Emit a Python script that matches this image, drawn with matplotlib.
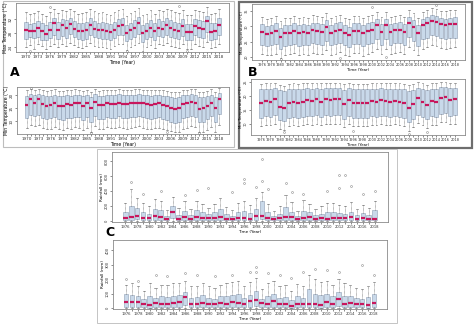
import matplotlib
matplotlib.use("Agg")
import matplotlib.pyplot as plt
from matplotlib.patches import Rectangle

W, H = 474, 324

# ---------------- data ----------------
years_a = list(range(1970, 2019))
years_bc = list(range(1976, 2019))

# Station A, maximum temperature (°C)
amax_med = [29.0, 28.5, 28.7, 29.5, 28.5, 27.8, 29.0, 30.8, 29.0, 30.4, 29.5, 30.6, 29.3, 28.7, 28.7, 28.9, 30.4,
            29.3, 28.8, 28.8, 28.6, 28.3, 29.0, 30.1, 30.3, 27.9, 28.8, 29.5, 30.9, 27.9, 28.5, 29.6, 28.6, 29.6,
            29.3, 30.2, 29.5, 29.0, 28.6, 29.9, 28.2, 28.2, 30.0, 29.4, 29.1, 31.4, 28.4, 28.6, 30.3]
amax_q1 = [26.2, 26.8, 26.5, 27.0, 26.0, 25.9, 26.5, 27.5, 26.4, 27.2, 26.6, 27.8, 26.8, 26.3, 26.0, 26.4, 27.6,
           26.9, 26.5, 26.3, 26.2, 26.0, 26.6, 27.4, 27.5, 25.8, 26.3, 26.8, 27.8, 25.4, 26.2, 27.0, 26.0, 27.2,
           26.9, 27.6, 26.8, 26.5, 26.2, 27.3, 26.0, 25.9, 27.5, 26.8, 26.6, 28.3, 26.1, 26.3, 27.4]
amax_q3 = [31.2, 30.6, 31.0, 31.6, 30.8, 30.4, 31.3, 32.4, 31.2, 32.0, 31.8, 32.3, 31.5, 30.9, 31.0, 31.2, 32.2,
           31.6, 31.0, 31.2, 30.9, 30.6, 31.3, 32.0, 32.2, 30.3, 31.0, 31.7, 32.5, 30.4, 30.9, 31.8, 30.9, 31.9,
           31.6, 32.2, 31.8, 31.3, 31.0, 32.0, 30.6, 30.6, 32.0, 31.7, 31.4, 32.8, 30.8, 31.0, 32.2]
amax_lo = [24.0, 24.6, 23.4, 24.8, 24.2, 23.6, 24.4, 25.0, 24.1, 24.9, 24.3, 25.3, 24.5, 24.0, 23.8, 24.2, 25.1,
           24.4, 24.0, 23.9, 23.8, 23.6, 24.2, 24.9, 25.0, 23.2, 24.0, 24.5, 25.2, 23.0, 23.9, 24.6, 23.7, 24.8,
           24.5, 25.1, 24.4, 24.0, 23.8, 24.8, 23.6, 23.5, 25.0, 24.3, 24.1, 25.6, 23.7, 23.9, 24.8]
amax_hi = [34.0, 33.4, 33.8, 34.2, 33.5, 33.0, 34.0, 34.8, 33.8, 34.6, 34.4, 35.0, 34.2, 33.6, 33.8, 34.0, 34.8,
           34.4, 33.8, 33.9, 33.6, 33.3, 34.0, 34.6, 34.8, 33.0, 33.8, 34.4, 35.1, 33.1, 33.6, 34.5, 33.6, 34.5,
           34.3, 34.8, 34.5, 34.0, 33.7, 34.6, 33.3, 33.2, 34.6, 34.3, 34.0, 35.4, 33.5, 33.7, 34.8]
amax_out = {1971: [22.9], 1976: [35.4], 1995: [22.8], 2008: [35.8], 2010: [23.0]}

# Station A, minimum temperature (°C)
amin_med = [16.2, 18.3, 17.0, 18.3, 16.5, 15.8, 16.2, 16.8, 15.8, 15.8, 16.5, 16.2, 16.8, 16.8, 15.8, 16.8, 15.0,
            17.3, 16.0, 16.0, 16.8, 16.5, 16.5, 17.0, 16.5, 16.5, 16.8, 16.8, 17.0, 16.8, 16.5, 16.2, 16.5, 16.8,
            16.2, 15.8, 15.2, 14.8, 15.0, 16.5, 16.8, 17.2, 17.0, 14.8, 14.9, 15.9, 17.0, 14.9, 18.3]
amin_q1 = [11.0, 12.5, 11.8, 12.4, 11.2, 10.8, 11.0, 11.6, 10.6, 10.5, 11.3, 11.0, 11.6, 11.5, 10.4, 11.4, 9.6,
           12.0, 10.8, 10.9, 11.6, 11.2, 11.3, 11.8, 11.2, 11.1, 11.5, 11.6, 11.9, 11.4, 11.1, 10.8, 11.2, 11.5,
           10.9, 10.4, 9.8, 9.4, 9.6, 11.0, 11.4, 11.9, 11.7, 9.5, 9.6, 10.6, 11.8, 9.6, 12.6]
amin_q3 = [19.8, 20.4, 20.0, 20.5, 19.9, 19.5, 19.8, 20.2, 19.6, 19.6, 20.0, 19.8, 20.2, 20.1, 19.6, 20.1, 19.3,
           20.4, 19.7, 19.8, 20.1, 19.9, 19.9, 20.3, 19.9, 19.9, 20.1, 20.2, 20.3, 20.1, 19.9, 19.8, 19.9, 20.1,
           19.8, 19.6, 19.3, 19.0, 19.2, 19.9, 20.1, 20.3, 20.2, 19.1, 19.1, 19.6, 20.2, 19.2, 20.6]
amin_lo = [7.2, 8.6, 7.9, 8.4, 7.4, 6.9, 7.1, 7.6, 6.8, 6.6, 7.4, 7.1, 7.6, 7.5, 6.5, 7.4, 5.9,
           8.0, 6.9, 7.0, 7.6, 7.3, 7.3, 7.8, 7.2, 7.1, 7.5, 7.6, 7.9, 7.4, 7.1, 6.9, 7.3, 7.5,
           7.0, 6.5, 6.0, 5.7, 5.9, 7.1, 7.4, 7.9, 7.7, 5.8, 5.9, 6.7, 7.8, 5.9, 8.6]
amin_hi = [21.8, 22.4, 22.0, 22.5, 21.9, 21.5, 21.8, 22.2, 21.6, 21.6, 22.0, 21.8, 22.2, 22.1, 21.6, 22.1, 21.3,
           22.4, 21.7, 21.8, 22.1, 21.9, 21.9, 22.3, 21.9, 21.9, 22.1, 22.2, 22.3, 22.1, 21.9, 21.8, 21.9, 22.1,
           21.8, 21.6, 21.3, 21.0, 21.2, 21.9, 22.1, 22.3, 22.2, 21.1, 21.1, 21.6, 22.2, 21.2, 22.6]
amin_out = {1986: [5.4], 2005: [5.6], 2013: [5.3], 1971: [22.9]}

# Station B, maximum temperature (°C)
bmax_med = [28.0, 27.4, 27.9, 28.4, 26.6, 27.7, 27.9, 28.6, 27.9, 28.2, 27.9, 28.8, 28.4, 28.2, 29.8, 27.9, 28.4,
            28.9, 27.9, 27.2, 28.5, 28.5, 27.7, 28.4, 28.9, 30.3, 28.0, 30.3, 28.2, 28.7, 28.9, 28.0, 30.9, 29.8,
            27.7, 30.3, 30.9, 31.7, 31.4, 30.6, 30.4, 30.7, 30.8]
bmax_q1 = [24.0, 23.5, 23.8, 24.3, 22.8, 23.6, 23.9, 24.4, 23.7, 24.1, 23.8, 24.6, 24.2, 24.0, 25.4, 23.8, 24.3,
           24.7, 23.8, 23.2, 24.4, 24.4, 23.5, 24.2, 24.6, 25.9, 23.9, 25.8, 24.0, 24.5, 24.7, 23.9, 26.4, 25.4,
           23.6, 25.9, 26.3, 27.1, 26.8, 26.1, 25.9, 26.2, 26.3]
bmax_q3 = [30.6, 30.0, 30.4, 30.9, 29.4, 30.3, 30.4, 31.1, 30.5, 30.7, 30.4, 31.2, 30.9, 30.7, 32.0, 30.4, 30.9,
           31.3, 30.5, 29.9, 31.0, 31.0, 30.3, 30.9, 31.3, 32.4, 30.6, 32.4, 30.7, 31.1, 31.3, 30.6, 32.9, 32.0,
           30.3, 32.4, 32.9, 33.6, 33.3, 32.7, 32.5, 32.8, 32.9]
bmax_lo = [21.0, 20.6, 20.8, 21.2, 19.9, 20.6, 20.9, 21.4, 20.7, 21.0, 20.8, 21.5, 21.1, 21.0, 22.3, 20.8, 21.2,
           21.6, 20.8, 20.3, 21.3, 21.4, 20.5, 21.1, 21.6, 22.8, 20.9, 22.7, 21.0, 21.4, 21.6, 20.9, 23.2, 22.3,
           20.6, 22.8, 23.2, 24.0, 23.7, 23.0, 22.8, 23.1, 23.2]
bmax_hi = [32.9, 32.3, 32.7, 33.2, 31.7, 32.6, 32.7, 33.4, 32.8, 33.0, 32.7, 33.5, 33.2, 33.0, 34.3, 32.7, 33.2,
           33.6, 32.8, 32.2, 33.3, 33.3, 32.6, 33.2, 33.6, 34.7, 32.9, 34.7, 33.0, 33.4, 33.6, 32.9, 35.2, 34.3,
           32.6, 34.7, 35.2, 35.9, 35.6, 35.0, 34.8, 35.1, 35.2]
bmax_out = {1980: [19.5], 1993: [19.8], 2000: [36.2], 2014: [36.8], 2003: [20.2]}

# Station B, minimum temperature (°C)
bmin_med = [17.4, 18.2, 18.0, 18.9, 16.2, 15.8, 17.4, 18.0, 17.6, 18.0, 18.6, 18.2, 18.9, 18.0, 18.9, 18.6, 18.8,
            18.8, 17.0, 18.6, 17.6, 17.4, 17.4, 17.6, 18.2, 18.0, 18.6, 18.2, 18.0, 18.4, 18.0, 17.4, 15.6, 17.0,
            19.2, 18.0, 16.8, 18.2, 18.0, 19.4, 19.8, 18.6, 18.9]
bmin_q1 = [12.2, 12.8, 12.6, 13.2, 11.4, 11.0, 12.2, 12.6, 12.3, 12.6, 13.0, 12.8, 13.2, 12.6, 13.2, 13.0, 13.1,
           13.1, 11.9, 13.0, 12.3, 12.2, 12.2, 12.3, 12.8, 12.6, 13.0, 12.8, 12.6, 12.9, 12.6, 12.2, 10.6, 11.9,
           13.4, 12.6, 11.7, 12.8, 12.6, 13.6, 13.9, 13.0, 13.2]
bmin_q3 = [22.4, 22.7, 22.6, 22.9, 22.0, 21.8, 22.4, 22.6, 22.5, 22.6, 22.8, 22.7, 22.9, 22.6, 22.9, 22.8, 22.8,
           22.9, 22.3, 22.8, 22.5, 22.4, 22.4, 22.5, 22.7, 22.6, 22.8, 22.7, 22.6, 22.7, 22.6, 22.4, 21.9, 22.3,
           23.0, 22.6, 22.2, 22.7, 22.6, 23.1, 23.2, 22.8, 22.9]
bmin_lo = [9.2, 9.8, 9.6, 10.2, 8.4, 8.0, 9.2, 9.6, 9.3, 9.6, 10.0, 9.8, 10.2, 9.6, 10.2, 10.0, 10.1,
           10.1, 8.9, 10.0, 9.3, 9.2, 9.2, 9.3, 9.8, 9.6, 10.0, 9.8, 9.6, 9.9, 9.6, 9.2, 7.6, 8.9,
           10.4, 9.6, 8.7, 9.8, 9.6, 10.6, 10.9, 10.0, 10.2]
bmin_hi = [24.3, 24.6, 24.5, 24.8, 23.9, 23.7, 24.3, 24.5, 24.4, 24.5, 24.7, 24.6, 24.8, 24.5, 24.8, 24.7, 24.7,
           24.8, 24.2, 24.7, 24.4, 24.3, 24.3, 24.4, 24.6, 24.5, 24.7, 24.6, 24.5, 24.6, 24.5, 24.3, 23.8, 24.2,
           24.9, 24.5, 24.1, 24.6, 24.5, 25.0, 25.1, 24.7, 24.8]
bmin_out = {1981: [7.0], 1996: [7.4], 2008: [6.6], 2012: [7.2]}

# Station C, rainfall (mm), upper series
c1_med = [35, 45, 55, 40, 30, 60, 45, 15, 120, 25, 50, 20, 45, 40, 30, 35, 45, 20, 15, 30, 40, 25, 55, 60, 35,
          15, 30, 45, 50, 15, 40, 45, 20, 30, 25, 40, 35, 30, 45, 25, 30, 20, 15]
c1_q1 = [8, 10, 15, 10, 5, 12, 10, 3, 40, 5, 12, 4, 10, 8, 6, 8, 10, 4, 3, 6, 10, 5, 12, 14, 8,
         3, 6, 10, 12, 3, 8, 10, 4, 6, 5, 8, 7, 6, 10, 5, 6, 4, 3]
c1_q3 = [110, 190, 170, 120, 90, 150, 140, 60, 200, 80, 130, 70, 140, 110, 90, 110, 160, 90, 60, 110, 130, 100,
         160, 260, 110, 60, 90, 180, 120, 60, 130, 110, 70, 90, 110, 120, 100, 90, 120, 70, 100, 80, 140]
c1_lo = [0, 0, 0, 0, 0, 0, 0, 0, 0, 0, 0, 0, 0, 0, 0, 0, 0, 0, 0, 0, 0, 0,
         0, 0, 0, 0, 0, 0, 0, 0, 0, 0, 0, 0, 0, 0, 0, 0, 0, 0, 0, 0, 0]
c1_hi = [240, 430, 300, 240, 190, 290, 270, 140, 320, 170, 270, 150, 270, 220, 170, 220, 300, 180, 140, 230, 260,
         210, 300, 380, 220, 130, 190, 340, 250, 130, 280, 220, 150, 200, 230, 240, 210, 190, 250, 150, 210, 170, 260]
c1_out = {1977: [520], 1979: [360], 1982: [400], 1986: [350], 1988: [410], 1990: [440], 1994: [380],
          1996: [500, 560], 1998: [450], 1999: [830, 540], 2000: [430], 2003: [500], 2004: [380], 2006: [360],
          2010: [400], 2012: [620, 440], 2013: [620], 2014: [460], 2016: [360], 2018: [400]}

# Station C, rainfall (mm), lower series
c2_med = [40, 40, 40, 30, 20, 35, 30, 30, 35, 40, 75, 30, 30, 35, 30, 30, 35, 30, 40, 35, 30, 45, 55, 35, 30,
          45, 30, 30, 15, 30, 25, 30, 30, 20, 40, 30, 65, 30, 35, 30, 25, 20, 35]
c2_q1 = [8, 8, 6, 5, 3, 7, 5, 5, 6, 8, 20, 5, 5, 7, 5, 5, 6, 5, 8, 6, 5, 8, 12, 6, 5,
         8, 5, 5, 2, 5, 4, 5, 5, 3, 8, 5, 15, 5, 6, 5, 4, 3, 6]
c2_q3 = [95, 90, 80, 60, 85, 70, 80, 75, 85, 90, 110, 70, 75, 90, 70, 65, 80, 85, 90, 100, 70, 90, 115, 60, 85,
         95, 70, 75, 55, 85, 70, 130, 100, 90, 95, 80, 110, 85, 80, 70, 60, 75, 95]
c2_lo = [0, 0, 0, 0, 0, 0, 0, 0, 0, 0, 0, 0, 0, 0, 0, 0, 0, 0, 0, 0, 0, 0,
         0, 0, 0, 0, 0, 0, 0, 0, 0, 0, 0, 0, 0, 0, 0, 0, 0, 0, 0, 0, 0]
c2_hi = [160, 170, 150, 120, 175, 140, 160, 160, 170, 175, 190, 150, 150, 170, 150, 140, 160, 170, 180, 190, 150,
         180, 210, 130, 170, 185, 150, 160, 120, 165, 150, 230, 200, 180, 190, 160, 200, 170, 160, 140, 130, 150, 180]
c2_out = {1976: [200], 1978: [190], 1981: [230], 1983: [220], 1986: [240], 1988: [230], 1991: [220],
          1994: [230], 1997: [250], 1998: [280, 250], 2000: [240], 2002: [230], 2004: [210], 2006: [250],
          2008: [270], 2010: [260], 2012: [250], 2016: [300], 2018: [230]}

# ---------------- drawing ----------------
BOX_FACE = "#c9d9ea"
BOX_EDGE = "#8d9db2"
MEDIAN = "#c8175d"
WHISK = "#555555"

fig = plt.figure(figsize=(W / 100, H / 100), dpi=100)
fig.patch.set_facecolor("white")


def px(x0, y0, x1, y1):
    return [x0 / W, 1 - y1 / H, (x1 - x0) / W, (y1 - y0) / H]


# panel frames drawn on a full-figure canvas
bg = fig.add_axes([0, 0, 1, 1], zorder=-5)
bg.set_xlim(0, W)
bg.set_ylim(H, 0)
bg.axis("off")
bg.add_patch(Rectangle((3, 1), 231, 146, fill=False, edgecolor="#bdbdbd", linewidth=0.8))
bg.add_patch(Rectangle((239, 1.5), 233, 146.5, fill=False, edgecolor="#6e6e6e", linewidth=1.6))
bg.add_patch(Rectangle((97, 149), 300, 174, fill=False, edgecolor="#c4c4c4", linewidth=0.7))
bg.text(15, 73, "A", fontsize=9, fontweight="bold", ha="center", va="center")
bg.text(253, 72, "B", fontsize=9, fontweight="bold", ha="center", va="center")
bg.text(110, 232, "C", fontsize=9, fontweight="bold", ha="center", va="center")


def panel(box, years, med, q1, q3, lo, hi, out, ylim, yticks, ylabel, step, fs):
    ax = fig.add_axes(px(*box))
    n = len(years)
    stats = [dict(med=med[i], q1=q1[i], q3=q3[i], whislo=lo[i], whishi=hi[i],
                  fliers=out.get(y, [])) for i, y in enumerate(years)]
    pos = list(range(1, n + 1))
    ax.bxp(stats, positions=pos, widths=0.8, patch_artist=True, showfliers=True,
           boxprops=dict(facecolor=BOX_FACE, edgecolor=BOX_EDGE, linewidth=0.4),
           medianprops=dict(color=MEDIAN, linewidth=1.6, solid_capstyle="butt"),
           whiskerprops=dict(color=WHISK, linewidth=0.4, linestyle=(0, (1.2, 1.0))),
           capprops=dict(color=WHISK, linewidth=0.4),
           flierprops=dict(marker="o", markersize=1.4, markerfacecolor="none",
                           markeredgecolor="#666666", markeredgewidth=0.3))
    m = 0.04 * n
    ax.set_xlim(0.5 - m, n + 0.5 + m)
    ax.set_ylim(*ylim)
    ax.set_xticks(pos)
    ax.set_xticklabels([str(y) if i % step == 0 else "" for i, y in enumerate(years)], fontsize=fs)
    ax.set_yticks(yticks)
    ax.set_yticklabels([str(t) for t in yticks], fontsize=fs, rotation=90, va="center")
    ax.tick_params(length=1.2, width=0.4, pad=1, colors="#333333")
    for s in ax.spines.values():
        s.set_color("#8a8a8a")
        s.set_linewidth(0.6)
    ax.set_xlabel("Time (Year)", fontsize=fs + 0.3, labelpad=0.5)
    ax.set_ylabel(ylabel, fontsize=fs + 0.3, labelpad=1)
    return ax


panel((16, 3, 229, 52), years_a, amax_med, amax_q1, amax_q3, amax_lo, amax_hi, amax_out,
      (22.6, 36.6), [24, 28, 32], "Max Temperature (°C)", 3, 3.0)
panel((17, 87, 229, 134), years_a, amin_med, amin_q1, amin_q3, amin_lo, amin_hi, amin_out,
      (5.0, 23.1), [10, 15, 20], "Min Temperature (°C)", 3, 3.0)
panel((252, 4, 465, 60), years_bc, bmax_med, bmax_q1, bmax_q3, bmax_lo, bmax_hi, bmax_out,
      (19.1, 37.2), [20, 25, 30, 35], "Max Temperature (°C)", 2, 2.5)
panel((251, 79, 465, 135), years_bc, bmin_med, bmin_q1, bmin_q3, bmin_lo, bmin_hi, bmin_out,
      (6.1, 26.1), [10, 15, 20, 25], "Min Temperature (°C)", 2, 2.5)
panel((112, 152, 388, 222), years_bc, c1_med, c1_q1, c1_q3, c1_lo, c1_hi, c1_out,
      (-20, 925), [0, 200, 400, 600, 800], "Rainfall (mm)", 2, 2.7)
panel((113, 240, 387, 309), years_bc, c2_med, c2_q1, c2_q3, c2_lo, c2_hi, c2_out,
      (-7, 470), [0, 100, 200, 300, 400], "Rainfall (mm)", 2, 2.7)

fig.savefig("out.png", dpi=100, facecolor="white")
